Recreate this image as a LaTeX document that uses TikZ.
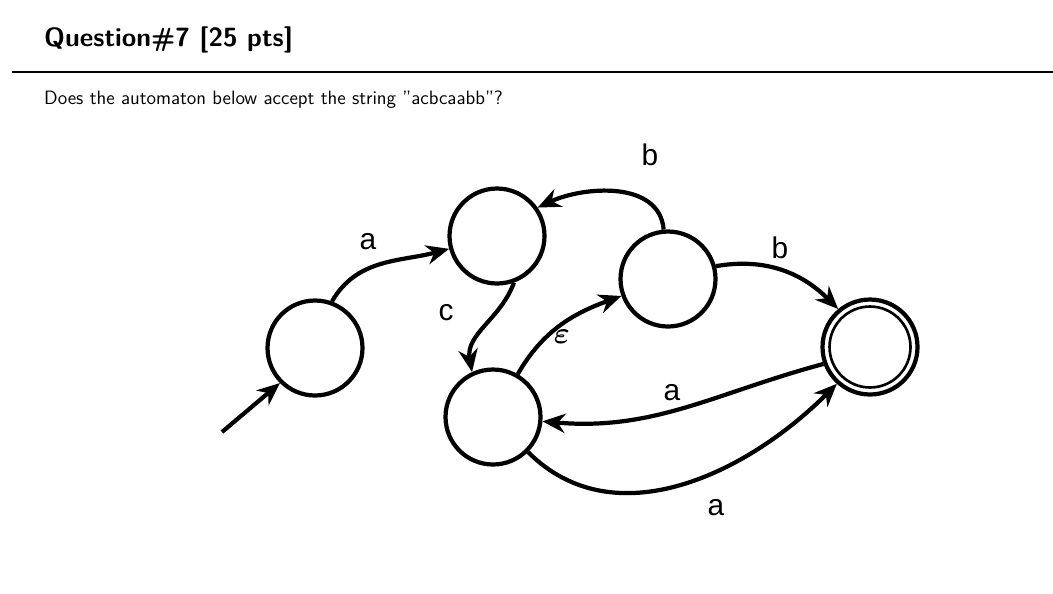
\documentclass[tikz,border=0pt]{standalone}
\usepackage{amsmath,amssymb}
\usepackage{fontspec}
\newfontfamily\lab{Liberation Sans}
\usetikzlibrary{arrows.meta}
\begin{document}
\begin{tikzpicture}[x=0.02cm,y=-0.02cm,
  st/.style={circle,draw,line width=2.4pt,minimum size=1.9cm,inner sep=0},
  ed/.style={line width=2.4pt,-{Stealth[length=13pt,width=11pt]}},
  lb/.style={font=\lab\fontsize{17}{20}\selectfont}]
\useasboundingbox (0,0) rectangle (1053,593);
\node[anchor=west,font=\sffamily\bfseries\fontsize{15}{18}\selectfont] (title) at (38,40) {Question\#7 [25 pts]};
\draw[line width=1.3pt] (12,72) -- (1053,72);
\node[anchor=west,font=\sffamily\fontsize{11}{13}\selectfont] (q) at (38,100) {Does the automaton below accept the string "acbcaabb"?};
\node[st] (s0) at (315,348) {};
\node[st] (s1) at (497,236) {};
\node[st] (s2) at (668,279) {};
\node[st] (s3) at (493,417) {};
\node[st] (f) at (870,347) {};
\node[circle,draw,line width=1.5pt,minimum size=1.62cm] (fi) at (870,347) {};
\coordinate (st) at (222,432);
\draw[ed] (st) -- (s0.225);
\draw[ed] (s0.70) to[out=60,in=195] (s1.195);
\draw[ed] (s2.95) to[out=95,in=25] (s1.35);
\draw[ed] (s1.-70) to[out=-110,in=100] (s3.115);
\draw[ed] (s3.60) to[out=60,in=200] (s2.200);
\draw[ed] (s2.15) to[out=10,in=135] (f.130);
\draw[ed] (f.200) to[out=195,in=-5] (s3.-5);
\draw[ed] (s3.-45) to[out=-45,in=225] (f.228);
\node[lb] (la1) at (368,242) {a};
\node[lb] (lb1) at (650,155) {b};
\node[lb] (lc) at (446,313) {c};
\node[font=\fontsize{16}{18}\selectfont] (le) at (562,337) {$\boldsymbol{\varepsilon}$};
\node[lb] (lb2) at (780,248) {b};
\node[lb] (la2) at (672,393) {a};
\node[lb] (la3) at (716,508) {a};
\end{tikzpicture}
\end{document}
